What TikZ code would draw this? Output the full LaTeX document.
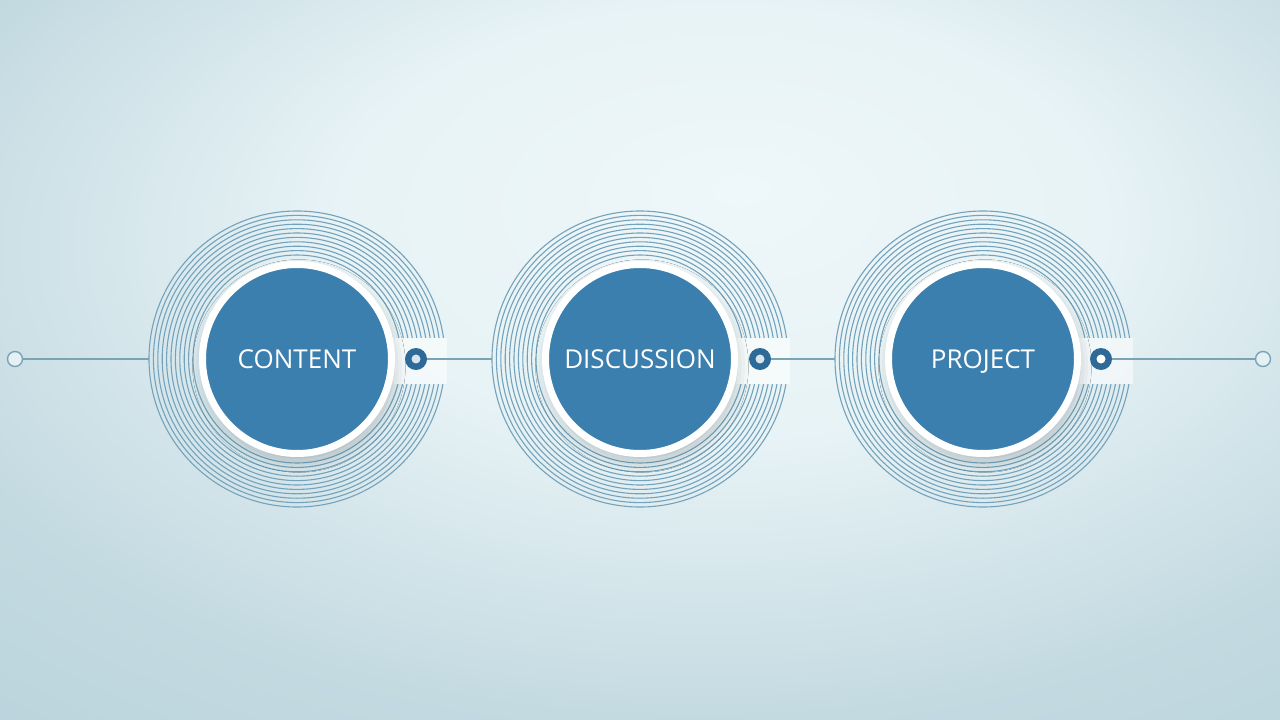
\documentclass[tikz,border=0pt]{standalone}
\usepackage{fontspec}
\newfontfamily\labelfont{Open Sans}
\usetikzlibrary{shadows.blur}
\definecolor{bgin}{HTML}{EEF7F9}
\definecolor{bgmid}{HTML}{D8E9EE}
\definecolor{bgout}{HTML}{A4C3CE}
\definecolor{mainblue}{HTML}{3B7FAE}
\definecolor{arccol}{HTML}{74A2BA}
\definecolor{dotblue}{HTML}{2E6A97}
\definecolor{linecol}{HTML}{7AA3B6}
\pgfdeclareradialshading{bgshade}{\pgfpoint{4bp}{12bp}}{color(0bp)=(bgin); color(15bp)=(bgin!70!bgmid); color(32bp)=(bgmid!60!bgout); color(55bp)=(bgout!80!bgmid); color(75bp)=(bgout)}
\tikzset{
  bigcirc/.style={circle, fill=mainblue, draw=white, line width=7pt, minimum size=189pt, inner sep=0pt,
    text=white, font=\labelfont\fontsize{26}{30}\selectfont, text height=18.5pt, text depth=0pt,
    blur shadow={shadow xshift=2pt, shadow yshift=-7pt, shadow blur radius=12pt, shadow opacity=22}},
  arcline/.style={draw=arccol, line width=1.1pt},
  connline/.style={draw=linecol, line width=1.6pt},
  dotnode/.style={circle, fill=dotblue, minimum size=22pt, inner sep=0pt},
  dotcore/.style={circle, fill=#1, minimum size=9pt, inner sep=0pt},
  endnode/.style={circle, draw=linecol, fill=bgmid!70!white, line width=1.4pt, minimum size=15pt, inner sep=0pt},
  bandfill/.style={fill=white, opacity=0.55}
}
\begin{document}
\begin{tikzpicture}[x=1pt, y=-1pt]
\useasboundingbox (0,0) rectangle (1280,720);
\shade[shading=bgshade] (0,0) rectangle (1280,720);
% arcs with right-hand gap
\foreach \cx in {297,640,983} {
  \begin{scope}
    \clip (\cx-160,200) rectangle (\cx+160,338)
          (\cx-160,384) rectangle (\cx+160,520)
          (\cx-160,338) rectangle (\cx,384);
    \foreach \r in {104,108.4,...,148.5} {
      \draw[arcline] (\cx,359) circle (\r pt);
    }
  \end{scope}
  \fill[bandfill] (\cx+90,338) rectangle (\cx+150,384);
}
% main circles
\node[bigcirc] (c1) at (297,359) {CONTENT};
\node[bigcirc] (c2) at (640,359) {DISCUSSION};
\node[bigcirc] (c3) at (983,359) {PROJECT};
% connector points
\node[endnode] (e1) at (15,359) {};
\node[endnode] (e2) at (1263,359) {};
\coordinate (a1) at (149,359);
\coordinate (a2) at (492,359);
\coordinate (a3) at (835,359);
\node[dotnode] (d1) at (416,359) {};
\node[dotnode] (d2) at (760,359) {};
\node[dotnode] (d3) at (1101,359) {};
\node[dotcore=white!80!mainblue] (k1) at (d1) {};
\node[dotcore=white!80!mainblue] (k2) at (d2) {};
\node[dotcore=white] (k3) at (d3) {};
\draw[connline] (e1) -- (a1);
\draw[connline] (d1) -- (a2);
\draw[connline] (d2) -- (a3);
\draw[connline] (d3) -- (e2);
\end{tikzpicture}
\end{document}
